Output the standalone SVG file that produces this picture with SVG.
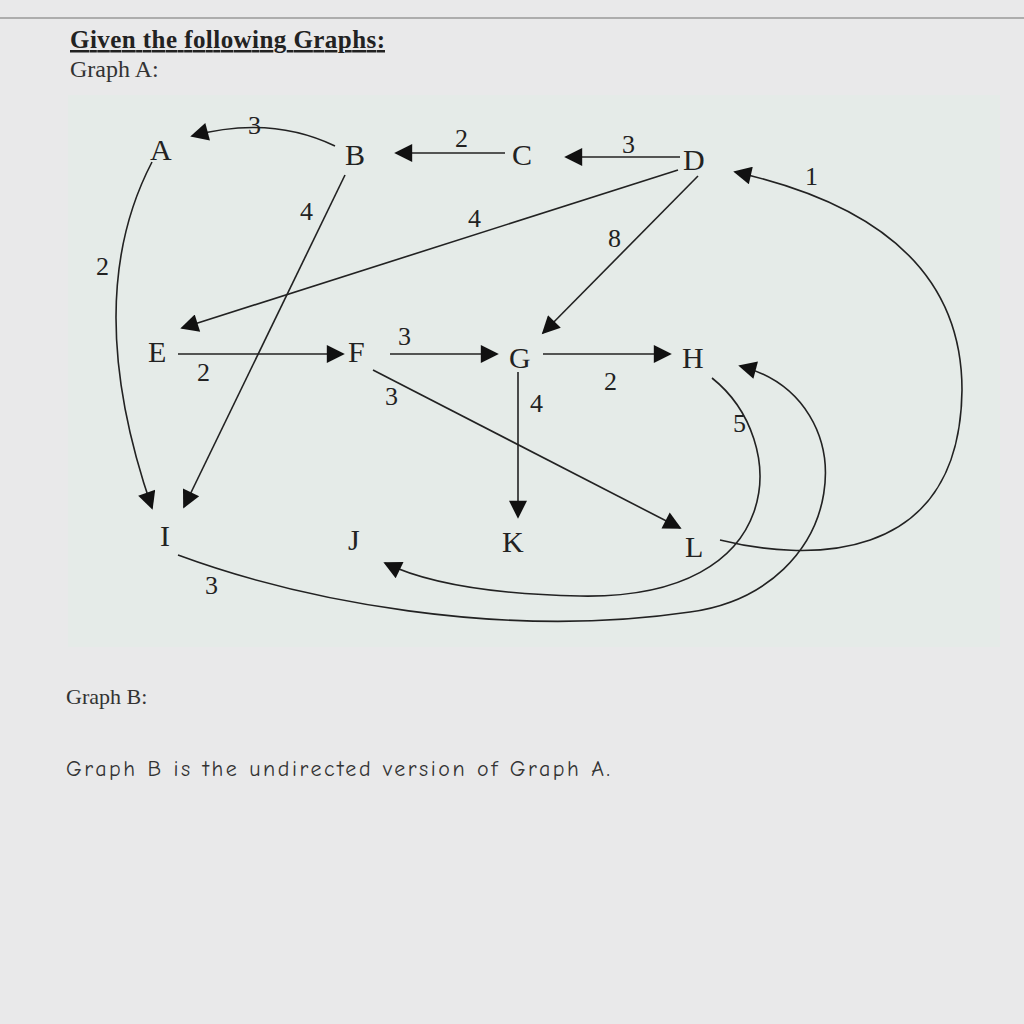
<svg xmlns="http://www.w3.org/2000/svg" width="1024" height="1024" viewBox="0 0 1024 1024">
<defs>
<marker id="ah" viewBox="0 0 10 10" refX="9" refY="5" markerWidth="22" markerHeight="18" markerUnits="userSpaceOnUse" orient="auto"><path d="M0,0L10,5L0,10z" fill="#111"/></marker>
<style>
.n{font-family:"Liberation Serif",serif;font-size:30px;fill:#222}
.w{font-family:"Liberation Serif",serif;font-size:26px;fill:#222}
.e{fill:none;stroke:#222;stroke-width:1.6;marker-end:url(#ah)}
</style>
</defs>
<rect width="1024" height="1024" fill="#e9e9ea"/>
<rect x="68" y="95" width="932" height="552" fill="#e5ebe8"/>
<line x1="0" y1="18" x2="1024" y2="18" stroke="#999" stroke-width="1.5"/>
<text x="70" y="48" font-family="Liberation Serif,serif" font-size="25" font-weight="bold" fill="#222" text-decoration="underline" textLength="315">Given the following Graphs:</text>
<text x="70" y="77" font-family="Liberation Serif,serif" font-size="24" fill="#333">Graph A:</text>
<text x="66" y="704" font-family="Liberation Serif,serif" font-size="22" fill="#333">Graph B:</text>
<text x="66" y="776" font-family="Comic Neue,DejaVu Sans,sans-serif" font-size="22" fill="#333" textLength="544">Graph B is the undirected version of Graph A.</text>
<g id="connectors">
<path class="e" d="M335,146 Q270,115 192,136"/>
<line class="e" x1="505" y1="153" x2="396" y2="153"/>
<line class="e" x1="680" y1="157" x2="566" y2="157"/>
<line class="e" x1="678" y1="170" x2="182" y2="328"/>
<line class="e" x1="698" y1="176" x2="543" y2="333"/>
<line class="e" x1="345" y1="175" x2="184" y2="507"/>
<path class="e" d="M152,162 Q80,300 152,508"/>
<line class="e" x1="178" y1="354" x2="343" y2="354"/>
<line class="e" x1="390" y1="354" x2="497" y2="354"/>
<line class="e" x1="543" y1="354" x2="670" y2="354"/>
<line class="e" x1="518" y1="372" x2="518" y2="517"/>
<line class="e" x1="373" y1="370" x2="680" y2="528"/>
<path class="e" d="M712,378 C790,440 790,600 580,596 C480,594 420,580 385,563"/>
<path class="e" d="M720,540 C800,560 960,570 962,390 C962,260 860,200 735,172"/>
<path class="e" d="M178,555 C300,600 500,640 690,612 C850,590 870,400 740,366"/>
</g>
<g id="labels">
<text class="w" x="248" y="134">3</text>
<text class="w" x="455" y="147">2</text>
<text class="w" x="622" y="153">3</text>
<text class="w" x="468" y="227">4</text>
<text class="w" x="608" y="247">8</text>
<text class="w" x="300" y="220">4</text>
<text class="w" x="96" y="275">2</text>
<text class="w" x="197" y="381">2</text>
<text class="w" x="398" y="345">3</text>
<text class="w" x="385" y="405">3</text>
<text class="w" x="604" y="390">2</text>
<text class="w" x="530" y="412">4</text>
<text class="w" x="733" y="432">5</text>
<text class="w" x="805" y="185">1</text>
<text class="w" x="205" y="594">3</text>
</g>
<g id="A"><text class="n" x="150" y="160">A</text></g>
<g id="B"><text class="n" x="345" y="165">B</text></g>
<g id="C"><text class="n" x="512" y="165">C</text></g>
<g id="D"><text class="n" x="683" y="170">D</text></g>
<g id="E"><text class="n" x="148" y="362">E</text></g>
<g id="F"><text class="n" x="348" y="362">F</text></g>
<g id="G"><text class="n" x="509" y="368">G</text></g>
<g id="H"><text class="n" x="682" y="368">H</text></g>
<g id="I"><text class="n" x="160" y="546">I</text></g>
<g id="J"><text class="n" x="348" y="550">J</text></g>
<g id="K"><text class="n" x="502" y="552">K</text></g>
<g id="L"><text class="n" x="685" y="557">L</text></g>
</svg>
